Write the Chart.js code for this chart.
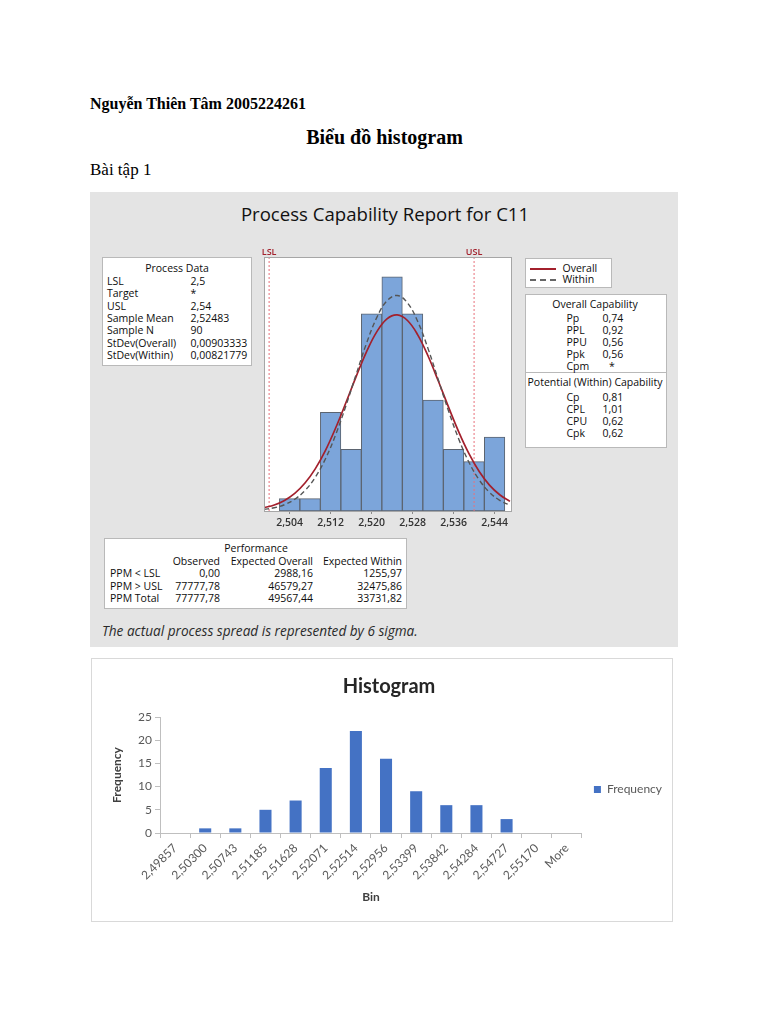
<!DOCTYPE html>
<html><head><meta charset="utf-8">
<script src="https://cdn.jsdelivr.net/npm/chart.js@4"></script>
<style>
html,body{margin:0;padding:0;background:#fff;}
body{width:768px;height:1024px;position:relative;overflow:hidden;}
.a{position:absolute;white-space:nowrap;}
.box{position:absolute;background:#fff;border:1px solid #b9b9b9;box-sizing:border-box;}
canvas{position:absolute;}
</style>
</head>
<body>
<div style="position:absolute;left:90px;top:192px;width:588px;height:455px;background:#e4e4e4;"></div>
<div class="box" style="left:102px;top:257px;width:150px;height:109px;"></div>
<div class="box" style="left:525px;top:258px;width:87px;height:30px;"></div>
<div style="position:absolute;left:530px;top:268px;width:26px;height:1.5px;background:#a3202c;"></div>
<div style="position:absolute;left:530px;top:279px;width:26px;height:1.5px;background:repeating-linear-gradient(90deg,#666 0 6px,transparent 6px 10px);"></div>
<div class="box" style="left:525px;top:294px;width:142px;height:154px;"></div>
<div style="position:absolute;left:526px;top:372px;width:140px;height:1px;background:#b9b9b9;"></div>
<div class="box" style="left:104px;top:538px;width:303px;height:71px;"></div>
<canvas id="mtc" width="265" height="300" style="left:255px;top:240px;"></canvas>
<div style="position:absolute;left:91px;top:658px;width:582px;height:264px;background:#fff;border:1px solid #d9d9d9;box-sizing:border-box;"></div>
<canvas id="xc" width="580" height="262" style="left:92px;top:659px;"></canvas>
<script>
// ---------- Minitab capability histogram data ----------
const binCenters = [2.504, 2.508, 2.512, 2.516, 2.520, 2.524, 2.528, 2.532, 2.536, 2.540, 2.544];
const binCounts  = [1, 1, 8, 5, 16, 19, 16, 9, 5, 4, 6];
const curveX     = [2.499, 2.501, 2.503, 2.505, 2.507, 2.509, 2.511, 2.513, 2.515, 2.517, 2.519, 2.521, 2.523,
                    2.525, 2.527, 2.529, 2.531, 2.533, 2.535, 2.537, 2.539, 2.541, 2.543, 2.545, 2.547];
const overallFit = [0.27, 0.49, 0.86, 1.43, 2.27, 3.42, 4.92, 6.75, 8.80, 10.92, 12.91, 14.53, 15.58,
                    15.90, 15.45, 14.29, 12.59, 10.56, 8.44, 6.42, 4.65, 3.20, 2.10, 1.32, 0.78];
const withinFit  = [0.13, 0.26, 0.51, 0.95, 1.66, 2.73, 4.24, 6.20, 8.55, 11.10, 13.59, 15.68, 17.05,
                    17.48, 16.88, 15.37, 13.19, 10.66, 8.13, 5.84, 3.95, 2.52, 1.52, 0.86, 0.46];
const specNames  = ['LSL', 'USL'];
const specValues = [2.5, 2.54];
const mtTicks    = [2.504, 2.512, 2.520, 2.528, 2.536, 2.544];

// ---------- Excel histogram data ----------
const binLabels = ['2,49857','2,50300','2,50743','2,51185','2,51628','2,52071','2,52514','2,52956','2,53399','2,53842','2,54284','2,54727','2,55170','More'];
const frequency = [0, 1, 1, 5, 7, 14, 22, 16, 9, 6, 6, 3, 0, 0];
const yTicksExcel = [0, 5, 10, 15, 20, 25];

// ---------- text helper ----------
function txt(s, x, base, fs, o) {
  o = o || {};
  const d = document.createElement('div');
  d.className = 'a';
  d.textContent = s;
  const fam = o.fam || '"Open Sans","Noto Sans",sans-serif';
  const k = o.k || 0.8877;
  d.style.fontFamily = fam;
  d.style.fontSize = fs + 'px';
  d.style.lineHeight = fs + 'px';
  d.style.top = (base - k * fs) + 'px';
  d.style.color = o.color || '#0d0d0d';
  d.style.fontWeight = o.w || 400;
  d.style.fontStyle = o.it ? 'italic' : 'normal';
  if (o.align === 'center') { d.style.left = x + 'px'; d.style.transform = 'translateX(-50%)'; }
  else if (o.align === 'right') { d.style.right = (768 - x) + 'px'; }
  else d.style.left = x + 'px';
  document.body.appendChild(d);
}
const SERIF = '"Liberation Serif","Times New Roman",serif';
txt('Nguyễn Thiên Tâm 2005224261', 90, 109, 16, {fam: SERIF, k: 0.8375, w: 700, color: '#000'});
txt('Biểu đồ histogram', 384.5, 143.3, 20, {fam: SERIF, k: 0.8375, w: 700, color: '#000', align: 'center'});
txt('Bài tập 1', 90, 175.7, 17, {fam: SERIF, k: 0.8375, color: '#000'});

txt('Process Capability Report for C11', 385, 222, 18.6, {align: 'center', color: '#111'});

const FS = 10.5;
txt('Process Data', 177, 272.5, FS, {align: 'center'});
const pdLabels = ['LSL', 'Target', 'USL', 'Sample Mean', 'Sample N', 'StDev(Overall)', 'StDev(Within)'];
const pdValues = ['2,5', '*', '2,54', '2,52483', '90', '0,00903333', '0,00821779'];
const pdBase = [285.5, 297.8, 310.1, 322.4, 334.7, 347.0, 359.3];
pdLabels.forEach((l, i) => { txt(l, 107, pdBase[i], FS); txt(pdValues[i], 190.5, pdBase[i], FS); });

txt('Overall', 562.5, 272.3, FS);
txt('Within', 562.5, 283.5, FS);

txt('Overall Capability', 595, 308.5, FS, {align: 'center'});
const ocL = ['Pp', 'PPL', 'PPU', 'Ppk', 'Cpm'];
const ocV = ['0,74', '0,92', '0,56', '0,56', '*'];
const ocB = [322.3, 334.2, 346.1, 358.0, 369.9];
ocL.forEach((l, i) => { txt(l, 566.5, ocB[i], FS); txt(ocV[i], ocV[i] === '*' ? 609 : 602.5, ocB[i], FS); });
txt('Potential (Within) Capability', 595, 386.3, FS, {align: 'center'});
const pcL = ['Cp', 'CPL', 'CPU', 'Cpk'];
const pcV = ['0,81', '1,01', '0,62', '0,62'];
const pcB = [401.3, 413.3, 425.3, 437.8];
pcL.forEach((l, i) => { txt(l, 566.5, pcB[i], FS); txt(pcV[i], 602.5, pcB[i], FS); });

txt('Performance', 256, 552.5, FS, {align: 'center'});
txt('Observed', 220, 565.2, FS, {align: 'right'});
txt('Expected Overall', 313, 565.2, FS, {align: 'right'});
txt('Expected Within', 402, 565.2, FS, {align: 'right'});
const pfL = ['PPM < LSL', 'PPM > USL', 'PPM Total'];
const pfObs = ['0,00', '77777,78', '77777,78'];
const pfExpO = ['2988,16', '46579,27', '49567,44'];
const pfExpW = ['1255,97', '32475,86', '33731,82'];
const pfB = [577.6, 590.0, 602.4];
pfL.forEach((l, i) => {
  txt(l, 110, pfB[i], FS);
  txt(pfObs[i], 220, pfB[i], FS, {align: 'right'});
  txt(pfExpO[i], 313, pfB[i], FS, {align: 'right'});
  txt(pfExpW[i], 402, pfB[i], FS, {align: 'right'});
});
txt('The actual process spread is represented by 6 sigma.', 102, 636, 13.6, {it: true, color: '#2a2a2a'});

// ---------- Minitab chart ----------
const plotFrame = {
  id: 'plotFrame',
  beforeDraw(c) {
    const a = c.chartArea, ctx = c.ctx;
    ctx.save(); ctx.fillStyle = '#fff';
    ctx.fillRect(a.left, a.top, a.right - a.left, a.bottom - a.top);
    ctx.restore();
  },
  afterDraw(c) {
    const a = c.chartArea, ctx = c.ctx;
    ctx.save(); ctx.strokeStyle = '#a6a6a6'; ctx.lineWidth = 1;
    ctx.strokeRect(a.left + 0.5, a.top + 0.5, a.right - a.left - 1, a.bottom - a.top);
    ctx.fillStyle = '#a3202c';
    ctx.font = '600 9px "Open Sans"';
    ctx.textAlign = 'center'; ctx.textBaseline = 'alphabetic';
    specValues.forEach((v, i) => {
      ctx.fillText(specNames[i], c.scales.x.getPixelForValue(v), a.top - 2);
    });
    ctx.restore();
  }
};
const yTop = 20.6;
new Chart(document.getElementById('mtc'), {
  type: 'bar',
  data: {
    datasets: [
      {type: 'line', label: 'Within', data: curveX.map((x, i) => ({x: x, y: withinFit[i]})),
       borderColor: '#555', borderDash: [5, 3], borderWidth: 1.4, pointRadius: 0, tension: 0.4, fill: false, order: 0},
      {type: 'line', label: 'Overall', data: curveX.map((x, i) => ({x: x, y: overallFit[i]})),
       borderColor: '#a3202c', borderWidth: 1.7, pointRadius: 0, tension: 0.4, fill: false, order: 1},
      ...specValues.map(v => ({type: 'line', label: 'spec', data: [{x: v, y: 0}, {x: v, y: yTop}],
       borderColor: '#e8707a', borderWidth: 1, borderDash: [2, 2], pointRadius: 0, fill: false, order: 2})),
      {type: 'bar', label: 'Counts', data: binCenters.map((x, i) => ({x: x, y: binCounts[i]})),
       backgroundColor: '#7ca5da', borderColor: '#5b6470', borderWidth: 1, borderSkipped: false,
       barPercentage: 1, categoryPercentage: 1, order: 5}
    ]
  },
  options: {
    responsive: false, animation: false,
    layout: {padding: {left: 9, right: 8, top: 17, bottom: 0}},
    plugins: {legend: {display: false}, tooltip: {enabled: false}},
    scales: {
      x: {type: 'linear', min: 2.499, max: 2.5474, offset: false,
          afterBuildTicks: s => { s.ticks = mtTicks.map(v => ({value: v})); },
          ticks: {callback: v => Number(v).toFixed(3).replace('.', ','), font: {family: 'Open Sans', size: 10.5, weight: '600'},
                  color: '#333', padding: 3, maxRotation: 0, autoSkip: false},
          grid: {drawOnChartArea: false, offset: false, tickLength: 3, color: '#8c8c8c'},
          border: {display: false},
          afterFit: s => { s.height = 29; }},
      y: {display: false, min: 0, max: yTop}
    }
  },
  plugins: [plotFrame]
});

// ---------- Excel chart ----------
new Chart(document.getElementById('xc'), {
  type: 'bar',
  data: {labels: binLabels, datasets: [{label: 'Frequency', data: frequency, backgroundColor: '#4472c4',
         barPercentage: 0.4, categoryPercentage: 1}]},
  options: {
    responsive: false, animation: false,
    layout: {padding: {left: 14, right: 0, top: 0, bottom: 13}},
    plugins: {
      title: {display: true, text: 'Histogram', font: {family: 'Lato', size: 20, weight: 'bold'}, color: '#262626',
              padding: {top: 15.5, bottom: 18.5}},
      legend: {position: 'right',
               labels: {boxWidth: 7, boxHeight: 7, font: {family: 'Lato', size: 12}, color: '#595959', padding: 12},
               title: {display: true, text: ' ', padding: {top: 10.8, bottom: 0}, font: {size: 1}}},
      tooltip: {enabled: false}
    },
    scales: {
      x: {grid: {drawOnChartArea: false, offset: true, tickLength: 5, color: '#bfbfbf'},
          border: {color: '#bfbfbf'},
          ticks: {font: {family: 'Lato', size: 12}, color: '#595959', maxRotation: 45, minRotation: 45, autoSkip: false, padding: 3},
          title: {display: true, text: 'Bin', font: {family: 'Lato', size: 12, weight: 'bold'}, color: '#404040'},
          afterFit: s => { s.height = 75; }},
      y: {min: 0, max: 25,
          afterBuildTicks: s => { s.ticks = yTicksExcel.map(v => ({value: v})); },
          ticks: {font: {family: 'Lato', size: 12}, color: '#595959', padding: 3},
          grid: {drawOnChartArea: false, tickLength: 5, color: '#bfbfbf'},
          border: {color: '#bfbfbf'},
          title: {display: true, text: 'Frequency', font: {family: 'Lato', size: 12, weight: 'bold'}, color: '#404040'},
          afterFit: s => { s.width = 54; }}
    }
  }
});
</script>
</body></html>
